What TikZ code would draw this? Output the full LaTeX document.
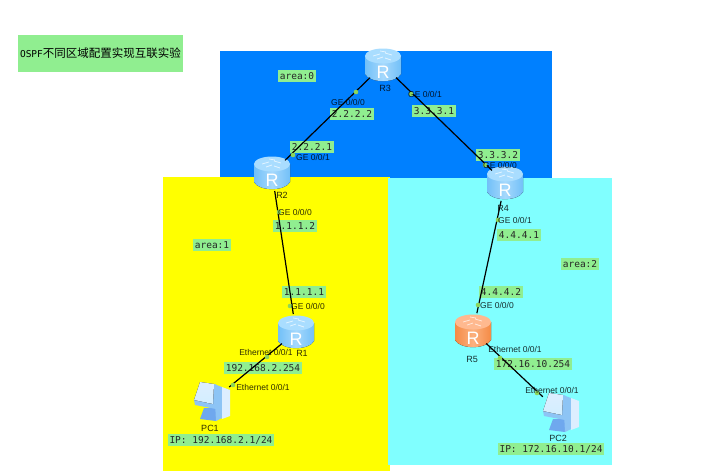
\documentclass[tikz,border=0pt]{standalone}
\usepackage{fontspec}
\setmainfont{Liberation Sans}
\setmonofont{DejaVu Sans Mono}
\newfontfamily\cjk{Noto Sans CJK SC}
\definecolor{areablue}{HTML}{0080FF}
\definecolor{areayellow}{HTML}{FFFF00}
\definecolor{areacyan}{HTML}{80FFFF}
\definecolor{tagfill}{HTML}{90EE90}
\definecolor{dotfill}{HTML}{8CD65A}
\definecolor{routertop}{HTML}{A9DDFF}
\definecolor{routerside}{HTML}{72C0F8}
\definecolor{routermid}{HTML}{A5D8FC}
\definecolor{hubtop}{HTML}{FFB98F}
\definecolor{hubside}{HTML}{F58B45}
\definecolor{hubmid}{HTML}{FBB07E}
\definecolor{pcscreen}{HTML}{D2EEFF}
\definecolor{pcedge}{HTML}{8DC4F5}
\definecolor{pcblue}{HTML}{6FA8EE}
\definecolor{pcwhite}{HTML}{DDEEFF}
\tikzstyle{iptag}=[fill=tagfill,inner xsep=1.5pt,inner ysep=2.5pt,text=black!85,
                   font=\ttfamily\fontsize{9.5}{11}\selectfont]
\tikzstyle{porttag}=[inner sep=0pt,text=black,text opacity=.82,
                     font=\fontsize{8.5}{10}\selectfont]
\tikzstyle{nametag}=[inner sep=0pt,text=black,text opacity=.82,
                     font=\fontsize{9}{11}\selectfont]
\tikzstyle{portdot}=[circle,fill=dotfill,inner sep=0pt,minimum size=1.6mm]
\tikzstyle{devnode}=[circle,inner sep=0pt,minimum size=36pt]
\tikzstyle{pcnode}=[rectangle,inner sep=0pt,minimum width=36pt,minimum height=32pt]
\tikzstyle{link}=[draw=black,line width=1.2pt]
\newcommand{\routericon}[5]{
    \begin{scope}[shift={(#1,#2)}]
      \fill[left color=#4,right color=#4,middle color=#5]
        (-18,-9) -- (-18,9) .. controls (-13,18.5) and (13,18.5) .. (18,9)
        -- (18,-9) -- cycle;
      \fill[#3] (0,-9) ellipse [x radius=18,y radius=7.5];
      \draw[white,line width=.8pt,opacity=.65]
        (-10,-9) -- (-3,-11) (-6,-6) -- (0,-8) (2,-12) -- (9,-10) (2,-7) -- (8,-5)
        (-3,-14) -- (3,-13);
      \node[text=white,inner sep=0pt,font=\fontsize{18}{18}\selectfont] at (0,7) {R};
    \end{scope}
}
\newcommand{\pcicon}[2]{
    \begin{scope}[shift={(#1,#2)}]
      \fill[pcblue] (-7,6) -- (5,6) -- (5,19) -- (-11,17) -- cycle;
      \fill[pcedge] (-17,-2) -- (-16,3) -- (5,7) -- (5,-18) -- cycle;
      \fill[top color=pcwhite,bottom color=pcscreen] (-17,-2) -- (-11,-20) -- (3,-18) -- (2,2) -- cycle;
      \fill[pcedge] (3,-18) -- (11,-15) -- (11,16) -- (5,19) -- cycle;
      \fill[pcwhite] (11,-15) -- (19,-12) -- (19,14) -- (11,17) -- cycle;
    \end{scope}
}
\begin{document}
\begin{tikzpicture}[x=1pt,y=-1pt]
    \useasboundingbox (0,0) rectangle (720,471);
    \fill[white] (0,0) rectangle (720,471);
    \fill[areablue] (220,51) rectangle (552,178);
    \fill[areayellow] (163,177) rectangle (390,471);
    \fill[areacyan] (388,178) rectangle (612,465);
    \node (title) at (100.5,53.5) [fill=tagfill,inner sep=0pt,minimum width=165pt,
      minimum height=37pt]{\ttfamily\fontsize{9.5}{11}\selectfont OSPF\cjk\fontsize{11.5}{13}\selectfont 不同区域配置实现互联实验};
    \node (area0) at (297, 76) [iptag]{area:0};
    \node (area1) at (212,245) [iptag]{area:1};
    \node (area2) at (580,264) [iptag]{area:2};
    \node (t1) at (352,114) [iptag]{2.2.2.2};
    \node (t2) at (434,111) [iptag]{3.3.3.1};
    \node (t3) at (312,147) [iptag]{2.2.2.1};
    \node (t4) at (498,155) [iptag]{3.3.3.2};
    \node (t5) at (295,226) [iptag]{1.1.1.2};
    \node (t6) at (519,235) [iptag]{4.4.4.1};
    \node (t7) at (304,292) [iptag]{1.1.1.1};
    \node (t8) at (501,292) [iptag]{4.4.4.2};
    \node (t9) at (263,368) [iptag]{192.168.2.254};
    \node (t10) at (533,364) [iptag]{172.16.10.254};
    \node (t11) at (221,440) [iptag]{IP: 192.168.2.1/24};
    \node (t12) at (551,449) [iptag]{IP: 172.16.10.1/24};
    \routericon{383}{65}{routertop}{routerside}{routermid}
    \routericon{272}{173}{routertop}{routerside}{routermid}
    \routericon{505}{183}{routertop}{routerside}{routermid}
    \routericon{296}{332}{routertop}{routerside}{routermid}
    \routericon{473}{331}{hubtop}{hubside}{hubmid}
    \pcicon{211}{402}
    \pcicon{560}{413}
    \node (r3) at (383, 65) [devnode]{};
    \node (r2) at (272,173) [devnode]{};
    \node (r4) at (505,183) [devnode]{};
    \node (r1) at (296,332) [devnode]{};
    \node (r5) at (473,331) [devnode]{};
    \node (pc1) at (211,402) [pcnode]{};
    \node (pc2) at (560,413) [pcnode]{};
    \draw[link] (r3) -- (r2) -- (r1) -- (pc1);
    \draw[link] (r3) -- (r4) -- (r5) -- (pc2);
    \node (d1) at (356, 92) [portdot]{};
    \node (d2) at (411, 94) [portdot]{};
    \node (d3) at (293,155) [portdot]{};
    \node (d4) at (485,165) [portdot]{};
    \node (d5) at (279,212) [portdot]{};
    \node (d6) at (498,220) [portdot]{};
    \node (d7) at (290,306) [portdot]{};
    \node (d8) at (478,305) [portdot]{};
    \node (d9) at (267,357) [portdot]{};
    \node (d10) at (233,385) [portdot]{};
    \node (d11) at (500,358) [portdot]{};
    \node (d12) at (537,393) [portdot]{};
    \node (p1) at (348,102) [porttag]{GE 0/0/0};
    \node (p2) at (425, 94) [porttag]{GE 0/0/1};
    \node (p3) at (313,157) [porttag]{GE 0/0/1};
    \node (p4) at (500,165) [porttag]{GE 0/0/0};
    \node (p5) at (295,212) [porttag]{GE 0/0/0};
    \node (p6) at (515,220) [porttag]{GE 0/0/1};
    \node (p7) at (308,306) [porttag]{GE 0/0/0};
    \node (p8) at (497,305) [porttag]{GE 0/0/0};
    \node (p9) at (266,352) [porttag]{Ethernet 0/0/1};
    \node (p10) at (263,387) [porttag]{Ethernet 0/0/1};
    \node (p11) at (515,349) [porttag]{Ethernet 0/0/1};
    \node (p12) at (552,390) [porttag]{Ethernet 0/0/1};
    \node (n3) at (385, 88) [nametag]{R3};
    \node (n2) at (282,195) [nametag]{R2};
    \node (n4) at (503,208) [nametag]{R4};
    \node (n1) at (302,353) [nametag]{R1};
    \node (n5) at (472,359) [nametag]{R5};
    \node (n6) at (210,428) [nametag]{PC1};
    \node (n7) at (558,438) [nametag]{PC2};
\end{tikzpicture}
\end{document}
